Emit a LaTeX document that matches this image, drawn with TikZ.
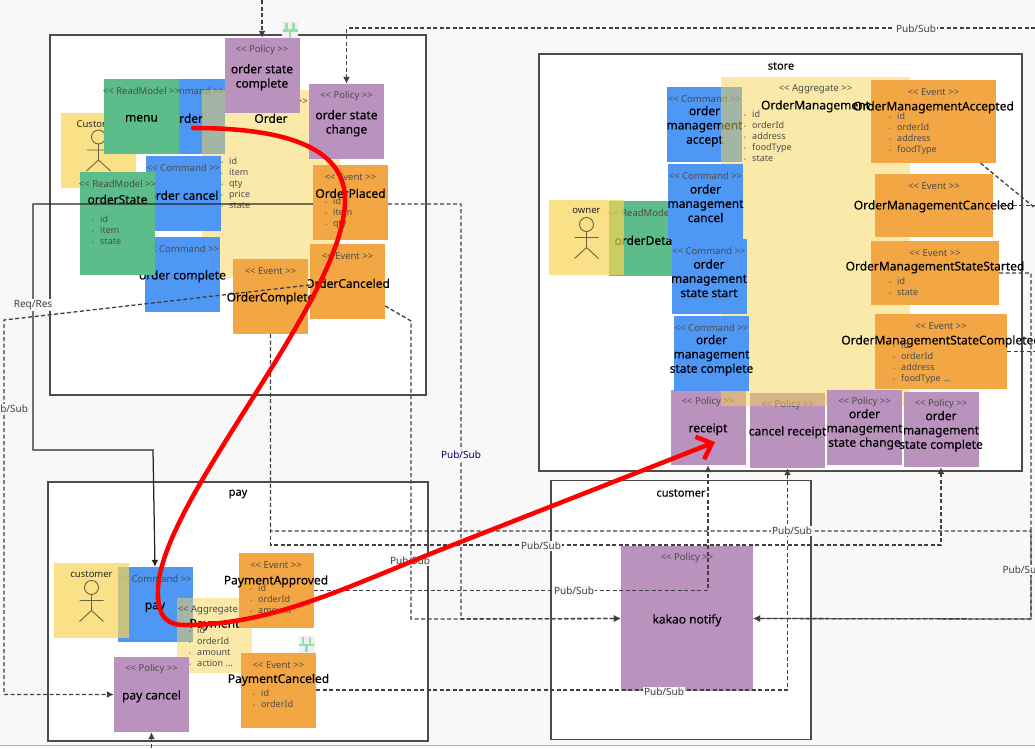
\documentclass[tikz,border=0pt]{standalone}
\usepackage{fontspec}
\setmainfont{Noto Sans}
\newfontfamily\stickyfont[FakeBold=0.25]{Noto Sans}
\usetikzlibrary{arrows.meta,positioning}

\definecolor{pagegrey}{HTML}{F8F8F8}
\definecolor{cmdblue}{HTML}{4F97F5}
\definecolor{evtorange}{HTML}{F2A744}
\definecolor{polpurple}{HTML}{BA92BE}
\definecolor{readgreen}{HTML}{5CBD8A}
\definecolor{stickyyellow}{HTML}{F8D454}
\definecolor{plusgreen}{HTML}{8FE3A8}

\tikzset{
	sticky/.style={inner sep=0pt, minimum width=75pt, minimum height=75pt},
	command/.style={sticky, fill=cmdblue},
	event/.style={sticky, fill=evtorange},
	policy/.style={sticky, fill=polpurple},
	readmodel/.style={sticky, fill=readgreen},
	aggregate/.style={sticky, fill=stickyyellow, fill opacity=0.5},
	actorbox/.style={sticky, fill=stickyyellow, fill opacity=0.7},
	kindtext/.style={yshift=-12.5pt, inner sep=0pt, text=black!70, font=\fontsize{9.5}{11}\selectfont},
	titletext/.style={inner sep=0pt, align=center, text=black, font=\stickyfont\fontsize{12}{14.3}\selectfont},
	fieldtext/.style={anchor=north west, inner sep=0pt, align=left, text=black!70, font=\fontsize{9}{11}\selectfont},
	frame/.style={inner sep=0pt, fill=white, draw=black!70, line width=1.2pt},
	frametitle/.style={inner sep=0pt, text=black, font=\stickyfont\fontsize{11}{13}\selectfont},
	stickline/.style={draw=black!60!yellow!80!black, line width=0.9pt},
	link/.style={draw=black!85, line width=1.25pt, -{Latex[length=7pt,width=7pt]}},
	pubsub/.style={link, draw=black!75, line width=1.3pt, dash pattern=on 4pt off 2.5pt},
	linklabel/.style={fill=pagegrey, inner sep=1.5pt, text=black!75, font=\fontsize{10}{12}\selectfont},
	bigred/.style={draw=red, line width=4.5pt, line cap=round, -{Straight Barb[length=13pt,width=24pt,line width=4.5pt]}}
}

% box, then stereotype and title on top of it
\newcommand{\sticky}[6]{%
	\node (#1) at (#3) [#2] {};
	\node (#1Kind) at (#1.north) [kindtext] {{<}{<} #4 {>}{>}};
	\node (#1Title) at (#1.north) [titletext, yshift=-#5pt-1.5pt] {#6};
}
\newcommand{\fld}[1]{\makebox[8pt][l]{\tiny\textbullet}#1}
\newcommand{\actor}[3]{%
	\node (#1) at (#2) [actorbox] {};
	\node (#1Name) at (#1.north) [kindtext, yshift=1pt, text=black!85] {#3};
	\begin{scope}[shift={(#2)}]
		\draw[stickline] (0,-13) circle (7pt) (0,-6) -- (0,10) (-12,0) -- (12,0) (-12,21) -- (0,10) -- (12,21);
	\end{scope}
}
\newcommand{\plusicon}[1]{%
	\begin{scope}[shift={(#1)}]
		\fill[black!6] (-8,-8.5) rectangle (8,8.5);
		\draw[plusgreen, line width=2.5pt] (-3.5,-7) -- (-3.5,1) (3.5,-7) -- (3.5,1) (-7.5,1) -- (7.5,1) (0,1) -- (0,8);
	\end{scope}
}

\begin{document}
\begin{tikzpicture}[x=1pt, y=-1pt]
	\useasboundingbox (0,0) rectangle (1035,748);
	\fill[pagegrey] (0,0) rectangle (1035,748);
	\fill[white] (0,745) rectangle (1035,748);
	\draw[black!30] (0,745) -- (1035,745);

	\node (orderFrame) at (238,215) [frame, minimum width=376pt, minimum height=360pt] {};
	\node (storeFrame) at (780.5,262.5) [frame, minimum width=483pt, minimum height=417pt] {};
	\node (payFrame) at (238,611.5) [frame, minimum width=380pt, minimum height=259pt] {};
	\node (customerFrame) at (681,610) [frame, minimum width=260pt, minimum height=259pt] {};
	\node (storeName) at (781,66) [frametitle] {store};
	\node (payName) at (238,494) [frametitle] {pay};
	\node (customerName) at (681,493) [frametitle] {customer};
	\plusicon{290,29.5}
	\plusicon{306.5,644}

	% order
	\actor{customerActor}{98.5,150}{Customer}
	\sticky{orderCmd}{command}{187.5,116.5}{Command}{38}{order}
	\sticky{orderAgg}{aggregate, minimum width=138pt, minimum height=188pt}{271,184}{Aggregate}{27}{Order}
	\node (orderFields) at (221,157) [fieldtext] {\fld{id}\\\fld{item}\\\fld{qty}\\\fld{price}\\\fld{state}};
	\sticky{orderCancel}{command}{183.5,193.5}{Command}{38}{order cancel}
	\sticky{orderComplete}{command}{182.5,274.5}{Command}{38}{order complete}
	\sticky{menu}{readmodel}{141.5,116.5}{ReadModel}{38}{menu}
	\sticky{orderState}{readmodel, minimum height=103pt}{117.5,223.5}{ReadModel}{26}{orderState}
	\node (orderStateFields) at (92,215.5) [fieldtext] {\fld{id}\\\fld{item}\\\fld{state}};
	\sticky{stateComplete}{policy}{262,75.5}{Policy}{38}{order state\\complete}
	\sticky{stateChange}{policy}{346.5,121.5}{Policy}{38}{order state\\change}
	\sticky{orderPlaced}{event}{350.5,202.5}{Event}{27}{OrderPlaced}
	\node (orderPlacedFields) at (325,197.5) [fieldtext] {\fld{id}\\\fld{item}\\\fld{qty}};
	\sticky{orderCanceled}{event}{347.5,281.5}{Event}{38}{OrderCanceled}
	\sticky{orderCompleted}{event}{270.5,296.5}{Event}{38}{OrderComplete}

	% store
	\sticky{orderDetail}{readmodel}{646.5,238.5}{ReadModel}{38}{orderDetail}
	\actor{ownerActor}{586.5,237.5}{owner}
	\sticky{mgmtAccept}{command}{704.5,124.5}{Command}{38}{order\\management\\accept}
	\sticky{receipt}{policy}{708,427.5}{Policy}{38}{receipt}
	\sticky{cancelReceipt}{policy}{787.5,430.5}{Policy}{38}{cancel receipt}
	\sticky{mgmtAgg}{aggregate, minimum width=189pt, minimum height=329pt}{815.5,241.5}{Aggregate}{28}{OrderManagement}
	\node (mgmtFields) at (744,110.5) [fieldtext] {\fld{id}\\\fld{orderId}\\\fld{address}\\\fld{foodType}\\\fld{state}};
	\sticky{mgmtCancel}{command}{705.5,201.5}{Command}{38}{order\\management\\cancel}
	\sticky{mgmtStart}{command}{709,276.5}{Command}{38}{order\\management\\state start}
	\sticky{mgmtComplete}{command}{711.5,353.5}{Command}{38}{order\\management\\state complete}
	\sticky{mgmtChange}{policy}{864.5,427.5}{Policy}{38}{order\\management\\state change}
	\sticky{mgmtCompletePol}{policy}{941,429.5}{Policy}{38}{order\\management\\state complete}
	\sticky{mgmtAccepted}{event, minimum width=125pt, minimum height=83pt}{933.5,121.5}{Event}{26}{OrderManagementAccepted}
	\node (acceptedFields) at (889,112.5) [fieldtext] {\fld{id}\\\fld{orderId}\\\fld{address}\\\fld{foodType}};
	\sticky{mgmtCanceled}{event, minimum width=118pt, minimum height=63pt}{934,205.5}{Event}{31}{OrderManagementCanceled}
	\sticky{mgmtStarted}{event, minimum width=128pt, minimum height=64pt}{935,273}{Event}{25}{OrderManagementStateStarted}
	\node (startedFields) at (889,277.5) [fieldtext] {\fld{id}\\\fld{state}};
	\sticky{mgmtCompleted}{event, minimum width=132pt}{941,351.5}{Event}{26}{OrderManagementStateCompleted}
	\node (completedFields) at (893,341.5) [fieldtext] {\fld{id}\\\fld{orderId}\\\fld{address}\\\fld{foodType ...}};

	% pay
	\sticky{payCmd}{command}{155,604.5}{Command}{39}{pay}
	\actor{payActor}{91.5,600.5}{customer}
	\sticky{paymentAgg}{aggregate}{214.5,635}{Aggregate}{26}{Payment}
	\node (paymentFields) at (189,626.5) [fieldtext] {\fld{id}\\\fld{orderId}\\\fld{amount}\\\fld{action ...}};
	\sticky{payCancel}{policy}{151.5,694.5}{Policy}{38}{pay cancel}
	\sticky{payApproved}{event}{276,590.5}{Event}{27}{PaymentApproved}
	\node (approvedFields) at (250,584.5) [fieldtext] {\fld{id}\\\fld{orderId}\\\fld{amount}};
	\sticky{payCanceled}{event}{278.5,690}{Event}{26}{PaymentCanceled}
	\node (canceledFields) at (253,689.5) [fieldtext] {\fld{id}\\\fld{orderId}};

	% customer
	\sticky{kakao}{policy, minimum width=132pt, minimum height=145pt}{687,618.5}{Policy}{73}{kakao notify}

	% connectors, free ends run off the page
	\coordinate (offTop) at (262,0);
	\coordinate (offRight) at (1035,28);
	\coordinate (offAccepted) at (1035,208);
	\coordinate (offCanceled) at (1035,205.5);
	\coordinate (offCompleted) at (1035,351.5);
	\coordinate (offBottom) at (151.5,748);
	\draw[pubsub] (offTop) -- (stateComplete.north);
	\draw[pubsub] (offRight) -| (stateChange.north);
	\draw[pubsub] ([yshift=-1.5pt]orderPlaced.east) -- (461,204) -- (461,619) -- (kakao.west);
	\draw[pubsub] ([yshift=-24.5pt]orderCanceled.east) -- (411,321) -- (411,619) -- (kakao.west);
	\draw[pubsub] ([yshift=-3.5pt]orderCanceled.west) -- (4,320) -- (4,694.5) -- (payCancel.west);
	\draw[pubsub] (orderCompleted.south) -- (270.5,531) -- (1031,531) -- (1031,619) -- (kakao.east);
	\draw[pubsub] (orderCompleted.south) -- (270.5,545) -- (941,545) -- (mgmtCompletePol.south);
	\draw[pubsub] (payApproved.east) -- (708,590.5) -- (receipt.south);
	\draw[pubsub] (payCanceled.east) -- (787.5,690) -- (cancelReceipt.south);
	\draw[pubsub, -] ([xshift=47pt]mgmtAccepted.south) -- (offAccepted);
	\draw[pubsub, -] (mgmtCanceled.east) -- (offCanceled);
	\draw[pubsub] (mgmtStarted.east) -- (1031,273) -- (1031,619) -- (kakao.east);
	\draw[pubsub, -] (mgmtCompleted.east) -- (offCompleted);
	\draw[pubsub] (offBottom) -- (payCancel.south);
	\draw[link] ([yshift=-1.5pt]orderPlaced.west) -- (33,204) -- (33,450) -- (153,450) -- (payCmd.north);

	\node (pubsubTop) at (916,29) [linklabel] {Pub/Sub};
	\node (pubsubPlaced) at (461,455) [linklabel, text=blue!40!black] {Pub/Sub};
	\node (reqRes) at (33,305) [linklabel] {Req/Res};
	\node (pubsubLeft) at (8,409) [linklabel] {Pub/Sub};
	\node (pubsubKakao) at (792,531) [linklabel] {Pub/Sub};
	\node (pubsubStore) at (541,546) [linklabel] {Pub/Sub};
	\node (pubsubCanceled) at (410,561) [linklabel] {Pub/Sub};
	\node (pubsubApproved) at (574,591) [linklabel] {Pub/Sub};
	\node (pubsubPayCanceled) at (664,692) [linklabel] {Pub/Sub};
	\node (pubsubRight) at (1022.5,570) [linklabel] {Pub/Sub};

	% the red route
	\coordinate (redStart) at (193,128);
	\coordinate (redEnd) at (715,442);
	\draw[bigred] (redStart) .. controls (280,128) and (345,145) .. (345,200)
		.. controls (345,300) and (160,500) .. (158,590)
		.. controls (157,620) and (170,625) .. (185,625)
		.. controls (270,625) and (340,590) .. (440,550) -- (redEnd);
\end{tikzpicture}
\end{document}
